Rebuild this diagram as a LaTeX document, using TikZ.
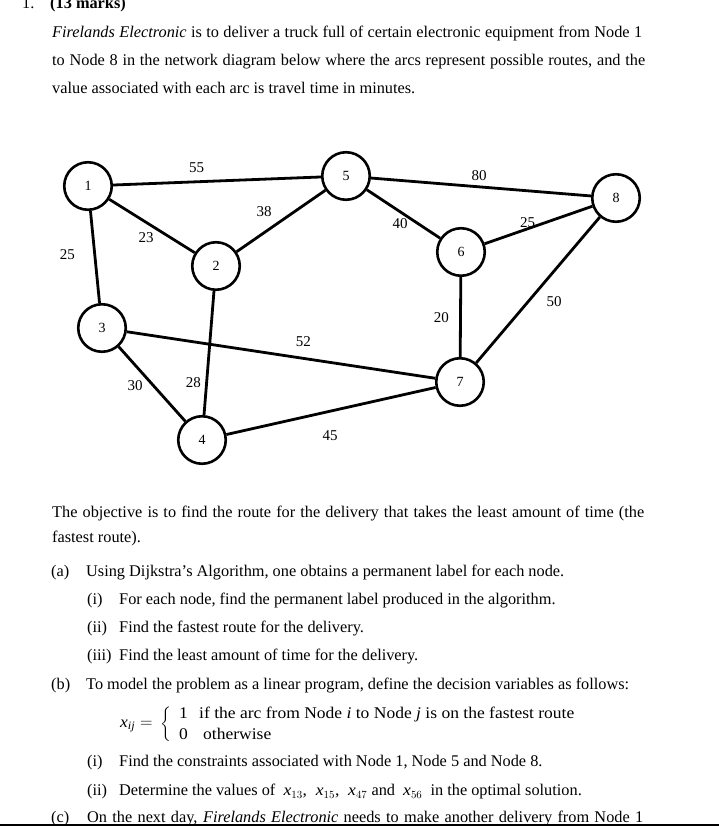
\documentclass[tikz,border=0pt]{standalone}
\usepackage{amsmath}
\usepackage{fontspec}
\setmainfont{Liberation Serif}
\begin{document}
\begin{tikzpicture}[x=1pt,y=-1pt,
  every node/.style={inner sep=0pt},
  txt/.style={anchor=base west,font=\fontsize{16.3}{19}\selectfont},
  wide/.style={anchor=base west,font=\fontsize{16.3}{19}\selectfont\addfontfeature{FakeStretch=1.075}},
  vert/.style={draw,circle,line width=2.6pt,minimum size=47.5pt,font=\fontsize{14}{16}\selectfont},
  arc/.style={line width=2.8pt},
  wt/.style={font=\fontsize{15}{17}\selectfont}]
\useasboundingbox (0,0) rectangle (719,826);
\fill[white] (0,0) rectangle (719,826);

% heading
\node[txt] (num) at (22,9) {1.};
\node[txt] (marks) at (50,9) {\textbf{(13 marks)}};
\node[txt] (p1) at (52,37.5) {\makebox[590pt][s]{\textit{Firelands Electronic} is to deliver a truck full of certain electronic equipment from Node 1}};
\node[txt] (p2) at (52,65.5) {\makebox[593pt][s]{to Node 8 in the network diagram below where the arcs represent possible routes, and the}};
\node[txt] (p3) at (52,93.5) {value associated with each arc is travel time in minutes.};

% network
\node[vert] (n1) at (88,186) {1};
\node[vert] (n2) at (216,266) {2};
\node[vert] (n3) at (102,328) {3};
\node[vert] (n4) at (202,440) {4};
\node[vert] (n5) at (346,176) {5};
\node[vert] (n6) at (461,252) {6};
\node[vert] (n7) at (460,382) {7};
\node[vert] (n8) at (616,198) {8};

\draw[arc] (n1) -- (n5);
\draw[arc] (n1) -- (n2);
\draw[arc] (n1) -- (n3);
\draw[arc] (n2) -- (n5);
\draw[arc] (n2) -- (n4);
\draw[arc] (n3) -- (n7);
\draw[arc] (n3) -- (n4);
\draw[arc] (n4) -- (n7);
\draw[arc] (n5) -- (n8);
\draw[arc] (n5) -- (n6);
\draw[arc] (n6) -- (n8);
\draw[arc] (n6) -- (n7);
\draw[arc] (n7) -- (n8);

\node[wt] (w15) at (196.7,167.3) {55};
\node[wt] (w12) at (146,237.3) {23};
\node[wt] (w13) at (67.3,255) {25};
\node[wt] (w25) at (264,211.7) {38};
\node[wt] (w37) at (303.3,341.7) {52};
\node[wt] (w34) at (135,385.7) {30};
\node[wt] (w24) at (193.3,382.3) {28};
\node[wt] (w47) at (330,435.7) {45};
\node[wt] (w58) at (479,175.3) {80};
\node[wt] (w56) at (400,223.3) {40};
\node[wt] (w68) at (527.7,222.7) {25};
\node[wt] (w67) at (441.3,317.7) {20};
\node[wt] (w78) at (554,301.7) {50};

% questions
\node[txt] (q1) at (52,517) {\makebox[592pt][s]{The objective is to find the route for the delivery that takes the least amount of time (the}};
\node[txt] (q2) at (52,542) {fastest route).};
\node[txt] (a0) at (51,576) {(a)};
\node[txt] (a1) at (86,576) {Using Dijkstra’s Algorithm, one obtains a permanent label for each node.};
\node[txt] (ai0) at (87,604) {(i)};
\node[txt] (ai1) at (119,604) {For each node, find the permanent label produced in the algorithm.};
\node[txt] (aii0) at (87,632) {(ii)};
\node[txt] (aii1) at (119,632) {Find the fastest route for the delivery.};
\node[txt] (aiii0) at (87,660) {(iii)};
\node[txt] (aiii1) at (119,660) {Find the least amount of time for the delivery.};
\node[txt] (b0) at (51,689) {(b)};
\node[txt] (b1) at (86,689) {To model the problem as a linear program, define the decision variables as follows:};
\node[wide] (xij) at (120,727) {$\textit{x}_{\textit{ij}} =$};
\node[font=\fontsize{15}{17}\selectfont] (brace) at (166,724.5) {$\left\{\vrule height 13pt depth 13pt width 0pt\right.$};
\node[wide] (one) at (179,718) {1};
\node[wide] (onet) at (199,718) {if the arc from Node \textit{i} to Node \textit{j} is on the fastest route};
\node[wide] (zero) at (179,739) {0};
\node[wide] (zerot) at (203,739) {otherwise};
\node[txt] (bi0) at (87,766) {(i)};
\node[txt] (bi1) at (119,766) {Find the constraints associated with Node 1, Node 5 and Node 8.};
\node[txt] (bii0) at (87,795.5) {(ii)};
\node[txt] (bii1) at (119,795.5) {Determine the values of \ {\addfontfeature{FakeStretch=1.075}$\textit{x}_{13}$, \ $\textit{x}_{15}$, \ $\textit{x}_{47}$} and \ {\addfontfeature{FakeStretch=1.075}$\textit{x}_{56}$} \ in the optimal solution.};
\node[txt] (c0) at (51,822.5) {(c)};
\node[txt] (c1) at (87,822.5) {\makebox[556pt][s]{On the next day, \textit{Firelands Electronic} needs to make another delivery from Node 1}};
\draw[line width=1.5pt] (0,825) -- (719,825);
\end{tikzpicture}
\end{document}
